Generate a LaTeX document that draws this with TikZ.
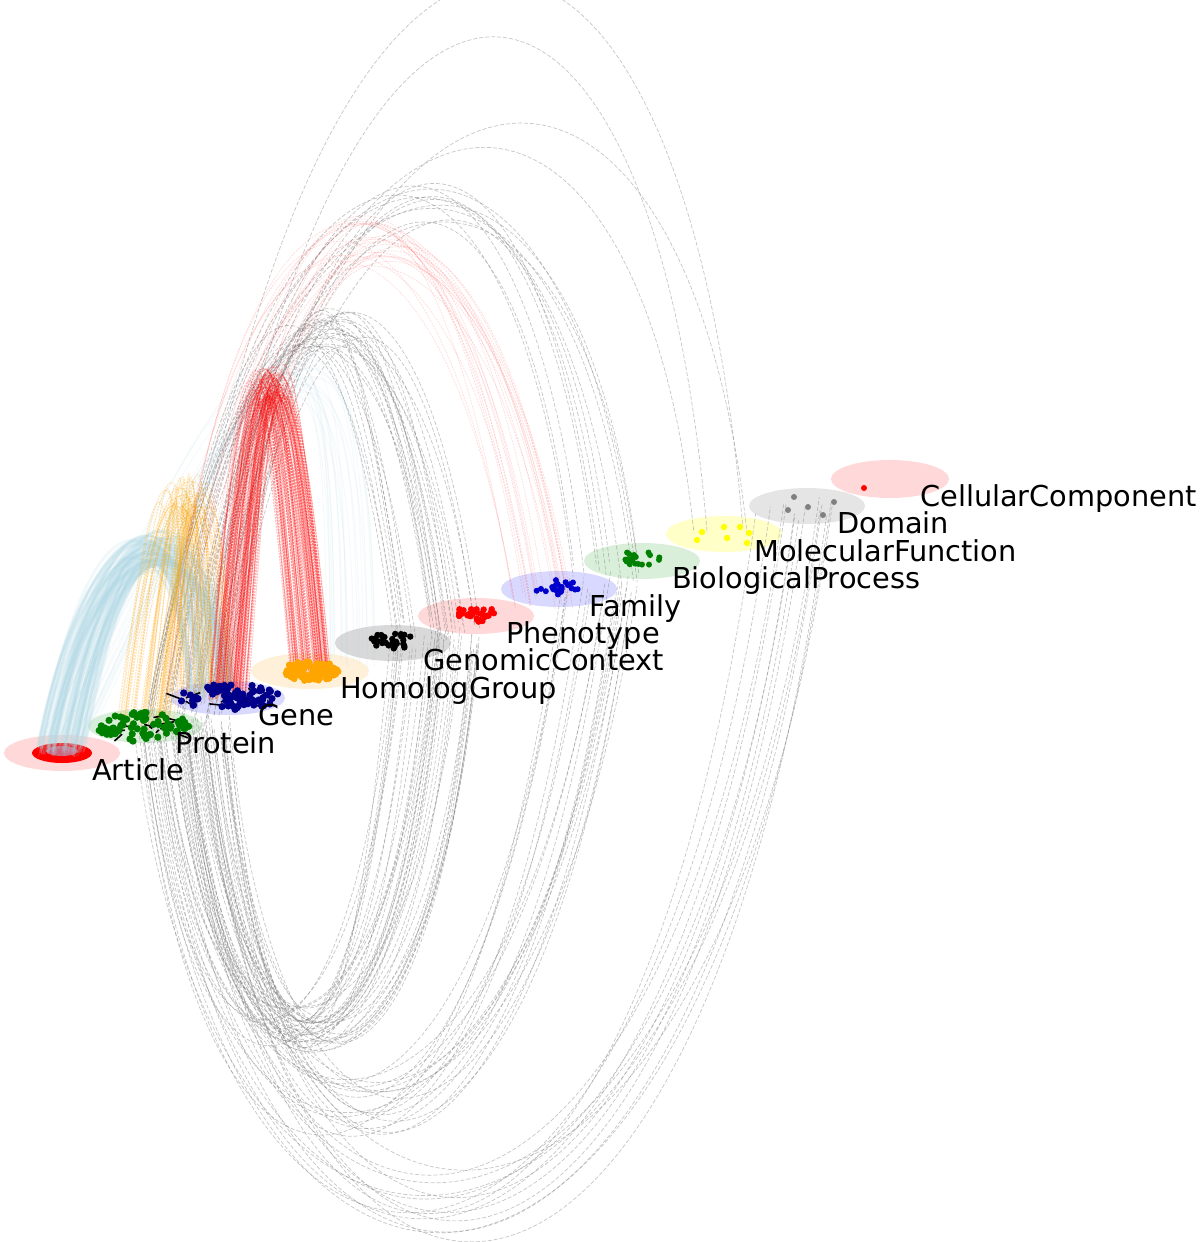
\documentclass[tikz,border=0pt]{standalone}
\usepackage{fontspec}
\setmainfont{DejaVu Sans}
\usetikzlibrary{calc}
\definecolor{lblue}{RGB}{173,216,230}
\definecolor{navyb}{RGB}{0,0,139}
\definecolor{orng}{RGB}{255,165,0}
\definecolor{grn}{RGB}{0,128,0}
\definecolor{blu}{RGB}{0,0,205}
\definecolor{ylw}{RGB}{255,255,0}
\definecolor{gry}{RGB}{128,128,128}
\tikzset{
  gline/.style={draw=gray, opacity=0.45, line width=0.7pt, dash pattern=on 4pt off 2pt},
  bline/.style={draw=lblue, opacity=0.17, line width=2.6pt},
  bfaint/.style={draw=lblue, opacity=0.12, line width=1pt},
  oline/.style={draw=orng, opacity=0.28, line width=1pt, dash pattern=on 2pt off 1pt},
  rline/.style={draw=red, opacity=0.25, line width=1pt, dash pattern=on 2pt off 1pt},
  rfaint/.style={draw=red, opacity=0.12, line width=0.8pt, dash pattern=on 2pt off 1pt},
  lab/.style={font=\fontsize{28.8}{30}\selectfont, inner sep=0pt, text=black, anchor=base west},
  hull/.style={opacity=0.15}
}
% arcs: n, style, sx, sy, tx, ty, spread, ctrl1 offset, ctrl2 offset
\newcommand\bundle[9]{%
  \foreach \k in {1,...,#1}{%
    \pgfmathsetmacro\ax{#3+#7*rand}%
    \pgfmathsetmacro\ay{#4+0.3*#7*rand}%
    \pgfmathsetmacro\bx{#5+#7*rand}%
    \pgfmathsetmacro\by{#6+0.3*#7*rand}%
    \pgfmathsetmacro\hs{1+\jit*rand}%
    \draw[#2] (\ax,\ay) .. controls +($\hs*#8$) and +($\hs*#9$) .. (\bx,\by);
  }}
\def\jit{0.06}
% dots: n, color, cx, cy, rx, ry, radius
\newcommand\dotcluster[7]{%
  \foreach \k in {1,...,#1}{%
    \pgfmathsetmacro\aa{360*rnd}%
    \pgfmathsetmacro\rr{sqrt(rnd)}%
    \pgfmathsetmacro\px{#3+#5*\rr*cos(\aa)}%
    \pgfmathsetmacro\py{#4+#6*\rr*sin(\aa)}%
    \fill[#2] (\px,\py) circle (#7pt);
  }}
% short black edges: n, cx, cy, rx, ry
\newcommand\edgecluster[5]{%
  \foreach \k in {1,...,#1}{%
    \pgfmathsetmacro\px{#2+#4*rand}%
    \pgfmathsetmacro\py{#3+#5*rand}%
    \pgfmathsetmacro\qx{\px+22*rand}%
    \pgfmathsetmacro\qy{\py+7*rand}%
    \draw[black, line width=1.6pt] (\px,\py) -- (\qx,\qy);
  }}
\begin{document}
\begin{tikzpicture}[x=1pt, y=-1pt]
\pgfmathsetseed{7}
\useasboundingbox (0,0) rectangle (1200,1242);
\fill[white] (0,0) rectangle (1200,1242);
% hulls
\fill[red, hull]    (62,753)    ellipse (58pt and 18pt);
\fill[green!60!black, hull] (145,726) ellipse (57pt and 17pt);
\fill[blue, hull]   (228,698)   ellipse (57pt and 17pt);
\fill[orng, hull]   (310,671)   ellipse (59pt and 18pt);
\fill[black, hull]  (393,643)   ellipse (58pt and 18pt);
\fill[red, hull]    (476,616)   ellipse (58pt and 18pt);
\fill[blue, hull]   (559,589)   ellipse (58pt and 18pt);
\fill[green!60!black, hull] (642,561) ellipse (58pt and 18pt);
\fill[ylw, opacity=0.22] (724,534) ellipse (58pt and 18pt);
\fill[black, opacity=0.1] (807,506) ellipse (58pt and 18pt);
\fill[red, hull]    (890,479)   ellipse (59pt and 19pt);
% article blob
\fill[red] (62,753) ellipse (30pt and 10pt);
\fill[gray!70!blue!50, opacity=0.6] (62,751) ellipse (16pt and 5pt);
% lower gray arcs
\bundle{40}{gline}{185}{728}{435}{640}{45}{(45,420)}{(-45,505)}
\bundle{20}{gline}{185}{728}{600}{585}{45}{(45,530)}{(-97,670)}
\bundle{14}{gline}{170}{728}{795}{508}{40}{(76,680)}{(-122,886)}
% upper gray arcs
\bundle{30}{gline}{185}{712}{435}{630}{45}{(85,-496)}{(-58,-414)}
\bundle{12}{gline}{185}{712}{600}{575}{45}{(120,-640)}{(-60,-505)}
\bundle{2}{gline}{185}{712}{722}{533}{30}{(128,-753)}{(-60,-574)}
\bundle{2}{gline}{185}{712}{722}{533}{30}{(128,-890)}{(-60,-715)}
% light blue
\def\jit{0.1}
\bundle{80}{bline}{62}{750}{212}{695}{24}{(48,-255)}{(-17,-200)}
\bundle{20}{bfaint}{62}{750}{350}{660}{25}{(224,-492)}{(0,-402)}
% orange
\bundle{50}{oline}{145}{724}{205}{692}{28}{(35,-300)}{(-8,-268)}
% red
\def\jit{0.06}
\bundle{90}{rline}{228}{696}{310}{672}{20}{(32,-410)}{(-35,-390)}
\bundle{25}{rfaint}{200}{700}{540}{600}{35}{(53,-600)}{(-80,-490)}
% clusters
\edgecluster{14}{143}{727}{42}{10}
\dotcluster{70}{grn}{143}{727}{48}{15}{3.6}
\edgecluster{14}{228}{697}{46}{10}
\dotcluster{70}{navyb}{228}{697}{52}{13}{3.6}
\dotcluster{120}{orng}{311}{671}{28}{10}{3.2}
\dotcluster{28}{black}{393}{641}{24}{8}{3.2}
\dotcluster{28}{red}{475}{614}{22}{8}{3.2}
\dotcluster{22}{blu}{556}{587}{24}{8}{3}
\dotcluster{20}{grn}{638}{559}{24}{8}{3}
\foreach \p in {(697,540),(702,532),(724,527),(727,538),(740,527),(749,533),(747,543)}
  \fill[ylw] \p circle (3.2pt);
\foreach \p in {(794,497),(788,510),(808,507),(823,515),(834,502)}
  \fill[gry] \p circle (3pt);
\fill[red] (864,488) circle (3pt);
% labels
\node[lab] (lArticle) at (92,780) {Article};
\node[lab] (lProtein) at (175,753) {Protein};
\node[lab] (lGene) at (258,725) {Gene};
\node[lab] (lHomolog) at (340,698) {HomologGroup};
\node[lab] (lGenomic) at (423,670) {GenomicContext};
\node[lab] (lPheno) at (506,643) {Phenotype};
\node[lab] (lFamily) at (589,616) {Family};
\node[lab] (lBio) at (672,588) {BiologicalProcess};
\node[lab] (lMol) at (754,561) {MolecularFunction};
\node[lab] (lDomain) at (837,533) {Domain};
\node[lab] (lCell) at (920,506) {CellularComponent};
\end{tikzpicture}
\end{document}
